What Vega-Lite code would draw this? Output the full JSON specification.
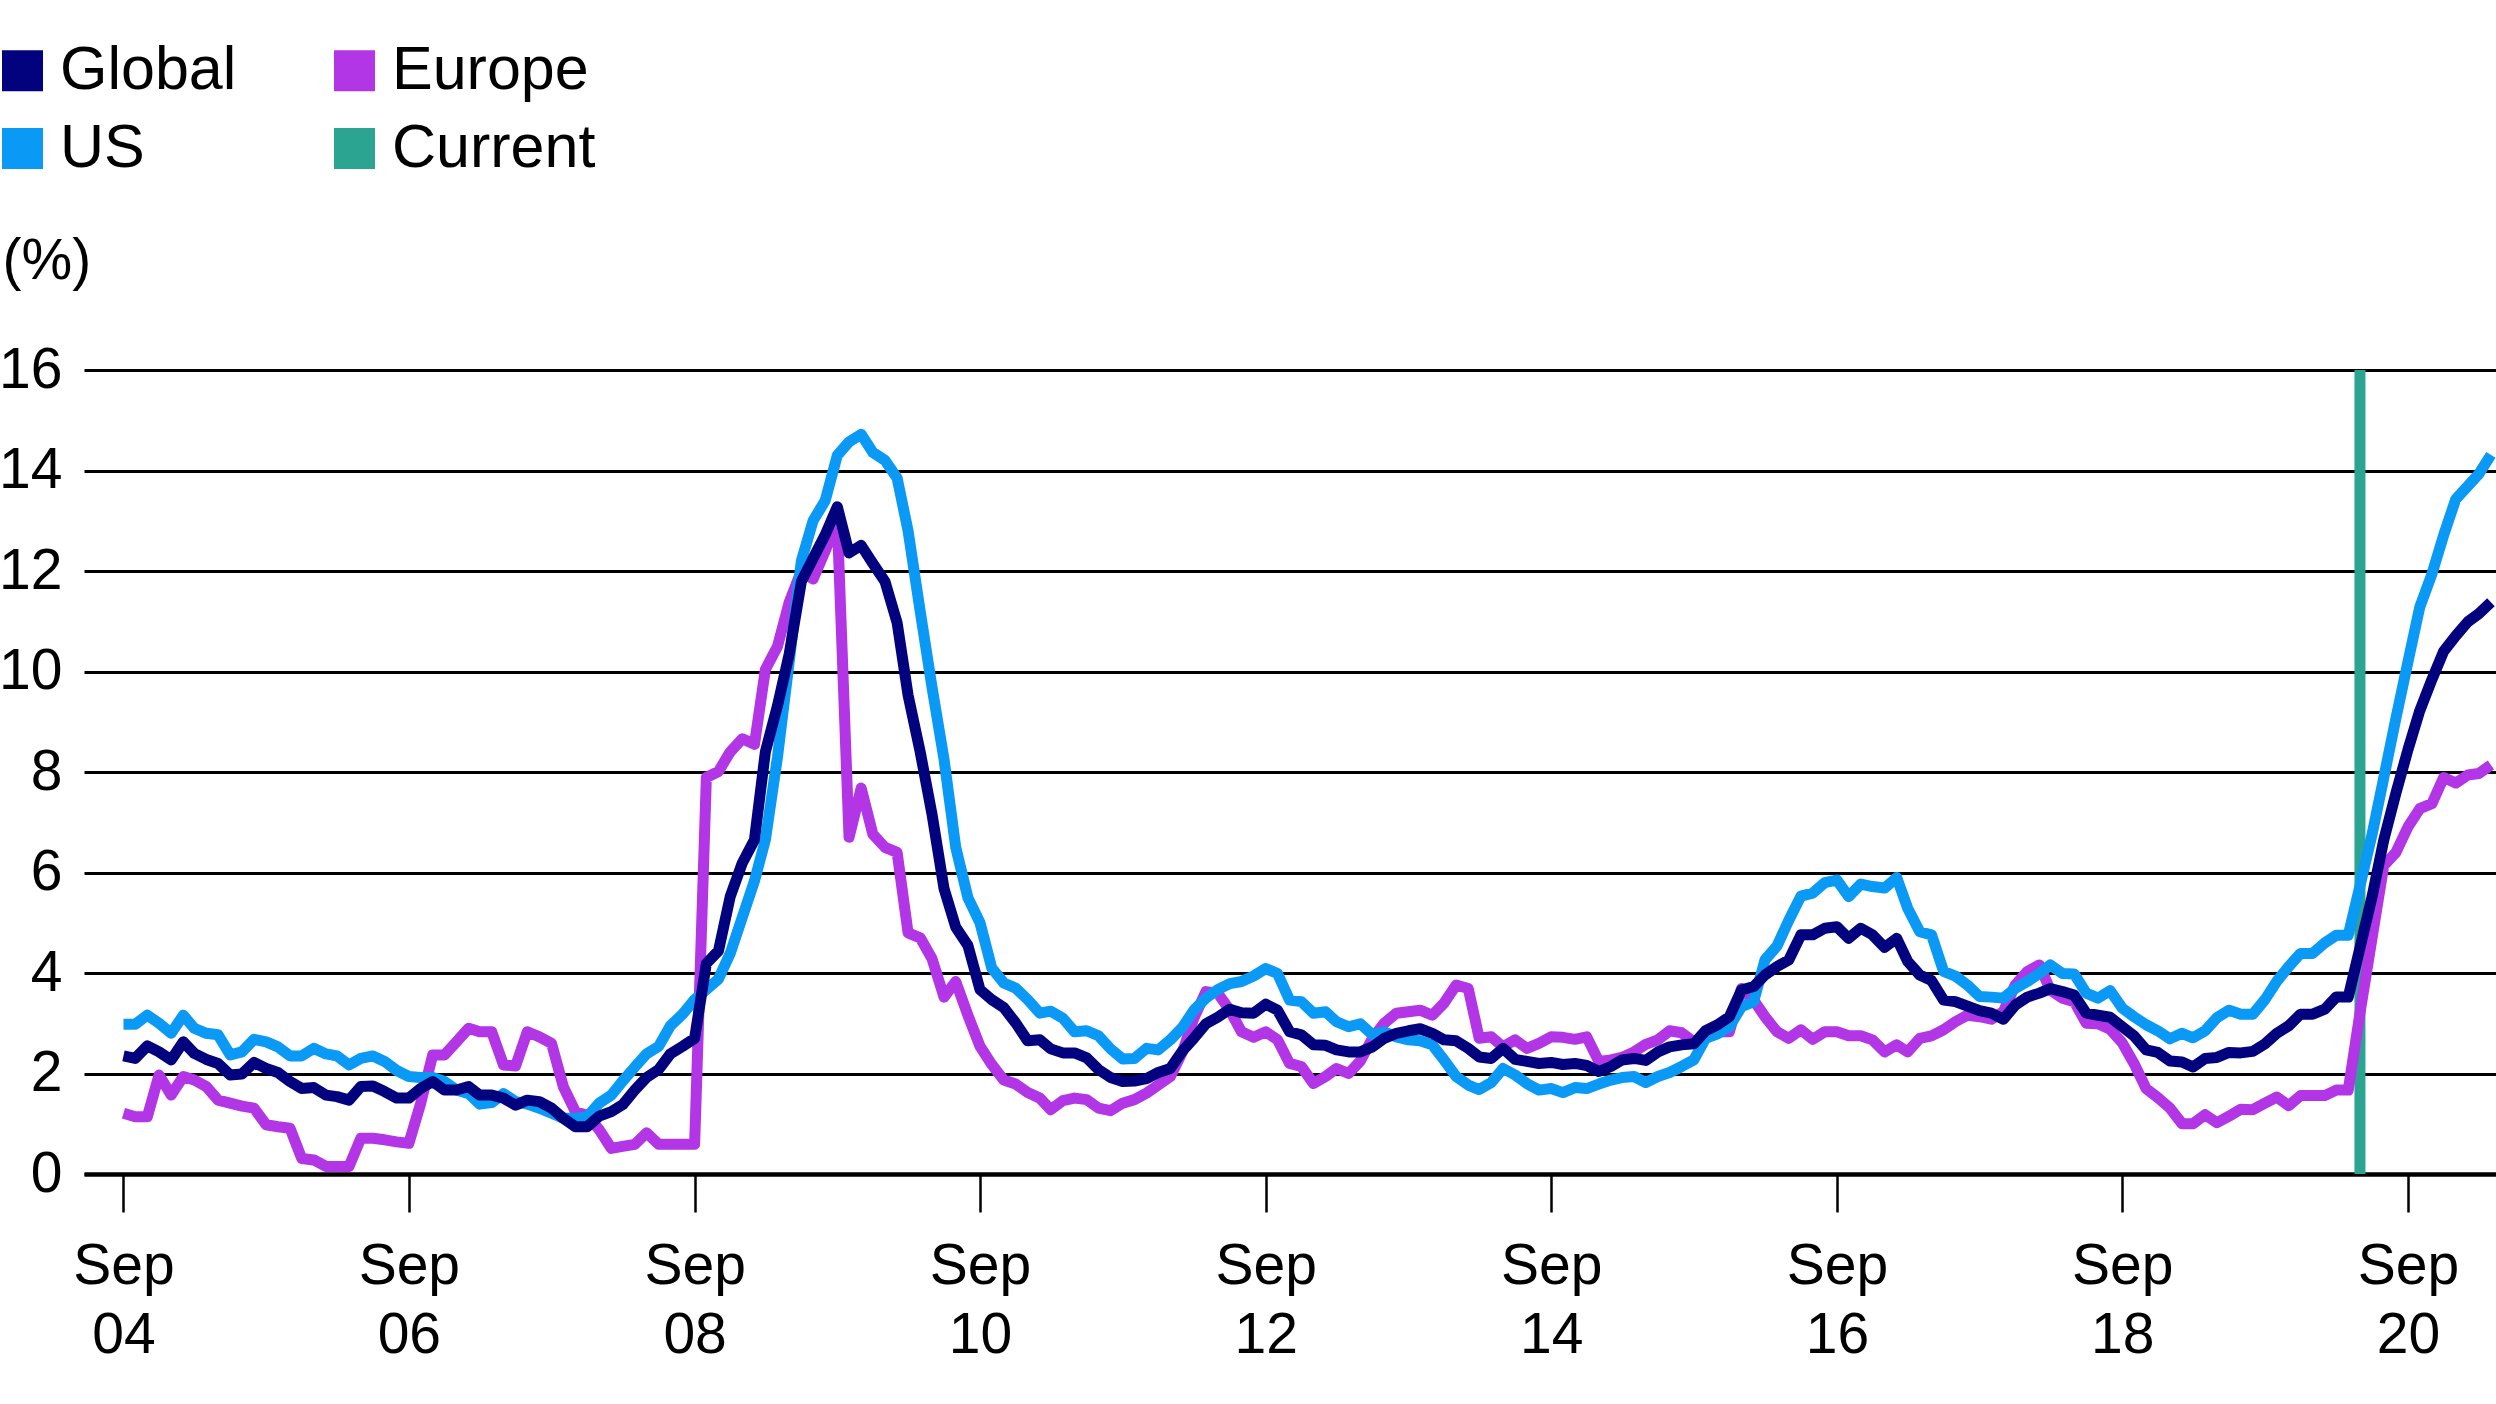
{
  "$schema": "https://vega.github.io/schema/vega-lite/v6.json",
  "width": 2412,
  "height": 804,
  "autosize": {"type": "none"},
  "padding": {"left": 84, "top": 370, "right": 0, "bottom": 230},
  "background": "white",
  "config": {
    "view": {"stroke": null},
    "font": "Liberation Sans",
    "axisX": {
      "grid": false,
      "domain": true,
      "domainColor": "black",
      "domainWidth": 4.5,
      "ticks": true,
      "tickColor": "black",
      "tickWidth": 2.5,
      "tickSize": 38,
      "labelFont": "Liberation Sans",
      "labelFontSize": 57,
      "labelColor": "black",
      "labelAngle": 0,
      "labelBaseline": "top",
      "labelLineHeight": 69,
      "labelPadding": 26,
      "labelFlush": false,
      "labelOverlap": false,
      "title": null
    },
    "axisY": {
      "grid": true,
      "gridColor": "black",
      "gridWidth": 3,
      "gridOpacity": 1,
      "domain": false,
      "ticks": false,
      "tickSize": 0,
      "tickCount": 8,
      "labelFont": "Liberation Sans",
      "labelFontSize": 57,
      "labelColor": "black",
      "labelPadding": 22,
      "labelBaseline": "middle",
      "titleFont": "Liberation Sans",
      "titleFontSize": 57,
      "titleFontWeight": "normal",
      "titleColor": "black",
      "titleAngle": 0,
      "titleAlign": "left",
      "titleBaseline": "alphabetic",
      "titleX": -82,
      "titleY": -92
    }
  },
  "data": {
    "values": [
      {"date": "2004-09-01", "Global": 2.35, "US": 2.98, "Europe": 1.21},
      {"date": "2004-10-01", "Global": 2.30, "US": 2.98, "Europe": 1.14},
      {"date": "2004-11-01", "Global": 2.55, "US": 3.16, "Europe": 1.14},
      {"date": "2004-12-01", "Global": 2.43, "US": 3.00, "Europe": 1.97},
      {"date": "2005-01-01", "Global": 2.27, "US": 2.80, "Europe": 1.57},
      {"date": "2005-02-01", "Global": 2.63, "US": 3.16, "Europe": 1.94},
      {"date": "2005-03-01", "Global": 2.40, "US": 2.90, "Europe": 1.87},
      {"date": "2005-04-01", "Global": 2.28, "US": 2.80, "Europe": 1.74},
      {"date": "2005-05-01", "Global": 2.20, "US": 2.77, "Europe": 1.47},
      {"date": "2005-06-01", "Global": 1.97, "US": 2.37, "Europe": 1.41},
      {"date": "2005-07-01", "Global": 1.99, "US": 2.43, "Europe": 1.35},
      {"date": "2005-08-01", "Global": 2.22, "US": 2.68, "Europe": 1.31},
      {"date": "2005-09-01", "Global": 2.10, "US": 2.63, "Europe": 0.98},
      {"date": "2005-10-01", "Global": 2.02, "US": 2.53, "Europe": 0.94},
      {"date": "2005-11-01", "Global": 1.84, "US": 2.35, "Europe": 0.91},
      {"date": "2005-12-01", "Global": 1.70, "US": 2.35, "Europe": 0.31},
      {"date": "2006-01-01", "Global": 1.72, "US": 2.50, "Europe": 0.28},
      {"date": "2006-02-01", "Global": 1.57, "US": 2.39, "Europe": 0.15},
      {"date": "2006-03-01", "Global": 1.54, "US": 2.35, "Europe": 0.15},
      {"date": "2006-04-01", "Global": 1.47, "US": 2.17, "Europe": 0.15},
      {"date": "2006-05-01", "Global": 1.74, "US": 2.30, "Europe": 0.71},
      {"date": "2006-06-01", "Global": 1.75, "US": 2.35, "Europe": 0.71},
      {"date": "2006-07-01", "Global": 1.64, "US": 2.24, "Europe": 0.68},
      {"date": "2006-08-01", "Global": 1.51, "US": 2.06, "Europe": 0.64},
      {"date": "2006-09-01", "Global": 1.51, "US": 1.94, "Europe": 0.61},
      {"date": "2006-10-01", "Global": 1.70, "US": 1.92, "Europe": 1.40},
      {"date": "2006-11-01", "Global": 1.84, "US": 1.92, "Europe": 2.37},
      {"date": "2006-12-01", "Global": 1.67, "US": 1.84, "Europe": 2.37},
      {"date": "2007-01-01", "Global": 1.67, "US": 1.67, "Europe": 2.63},
      {"date": "2007-02-01", "Global": 1.74, "US": 1.60, "Europe": 2.90},
      {"date": "2007-03-01", "Global": 1.57, "US": 1.39, "Europe": 2.83},
      {"date": "2007-04-01", "Global": 1.57, "US": 1.42, "Europe": 2.83},
      {"date": "2007-05-01", "Global": 1.51, "US": 1.60, "Europe": 2.17},
      {"date": "2007-06-01", "Global": 1.37, "US": 1.44, "Europe": 2.15},
      {"date": "2007-07-01", "Global": 1.47, "US": 1.39, "Europe": 2.83},
      {"date": "2007-08-01", "Global": 1.44, "US": 1.31, "Europe": 2.73},
      {"date": "2007-09-01", "Global": 1.31, "US": 1.21, "Europe": 2.60},
      {"date": "2007-10-01", "Global": 1.11, "US": 1.11, "Europe": 1.74},
      {"date": "2007-11-01", "Global": 0.94, "US": 1.11, "Europe": 1.24},
      {"date": "2007-12-01", "Global": 0.94, "US": 1.14, "Europe": 1.17},
      {"date": "2008-01-01", "Global": 1.15, "US": 1.41, "Europe": 0.88},
      {"date": "2008-02-01", "Global": 1.24, "US": 1.57, "Europe": 0.51},
      {"date": "2008-03-01", "Global": 1.38, "US": 1.85, "Europe": 0.55},
      {"date": "2008-04-01", "Global": 1.67, "US": 2.13, "Europe": 0.59},
      {"date": "2008-05-01", "Global": 1.92, "US": 2.39, "Europe": 0.82},
      {"date": "2008-06-01", "Global": 2.08, "US": 2.54, "Europe": 0.59},
      {"date": "2008-07-01", "Global": 2.39, "US": 2.95, "Europe": 0.59},
      {"date": "2008-08-01", "Global": 2.54, "US": 3.18, "Europe": 0.59},
      {"date": "2008-09-01", "Global": 2.70, "US": 3.47, "Europe": 0.59},
      {"date": "2008-10-01", "Global": 4.19, "US": 3.67, "Europe": 7.89},
      {"date": "2008-11-01", "Global": 4.44, "US": 3.88, "Europe": 8.01},
      {"date": "2008-12-01", "Global": 5.52, "US": 4.39, "Europe": 8.40},
      {"date": "2009-01-01", "Global": 6.19, "US": 5.11, "Europe": 8.66},
      {"date": "2009-02-01", "Global": 6.65, "US": 5.83, "Europe": 8.55},
      {"date": "2009-03-01", "Global": 8.40, "US": 6.65, "Europe": 10.04},
      {"date": "2009-04-01", "Global": 9.32, "US": 8.30, "Europe": 10.50},
      {"date": "2009-05-01", "Global": 10.35, "US": 10.20, "Europe": 11.38},
      {"date": "2009-06-01", "Global": 11.79, "US": 12.20, "Europe": 12.00},
      {"date": "2009-07-01", "Global": 12.25, "US": 13.00, "Europe": 11.84},
      {"date": "2009-08-01", "Global": 12.72, "US": 13.40, "Europe": 12.40},
      {"date": "2009-09-01", "Global": 13.28, "US": 14.30, "Europe": 13.00},
      {"date": "2009-10-01", "Global": 12.36, "US": 14.57, "Europe": 6.70},
      {"date": "2009-11-01", "Global": 12.51, "US": 14.72, "Europe": 7.68},
      {"date": "2009-12-01", "Global": 12.15, "US": 14.36, "Europe": 6.76},
      {"date": "2010-01-01", "Global": 11.79, "US": 14.20, "Europe": 6.50},
      {"date": "2010-02-01", "Global": 10.97, "US": 13.85, "Europe": 6.40},
      {"date": "2010-03-01", "Global": 9.53, "US": 12.80, "Europe": 4.80},
      {"date": "2010-04-01", "Global": 8.40, "US": 11.20, "Europe": 4.70},
      {"date": "2010-05-01", "Global": 7.17, "US": 9.70, "Europe": 4.29},
      {"date": "2010-06-01", "Global": 5.68, "US": 8.25, "Europe": 3.52},
      {"date": "2010-07-01", "Global": 4.91, "US": 6.50, "Europe": 3.83},
      {"date": "2010-08-01", "Global": 4.55, "US": 5.50, "Europe": 3.16},
      {"date": "2010-09-01", "Global": 3.67, "US": 5.00, "Europe": 2.54},
      {"date": "2010-10-01", "Global": 3.47, "US": 4.10, "Europe": 2.18},
      {"date": "2010-11-01", "Global": 3.31, "US": 3.80, "Europe": 1.87},
      {"date": "2010-12-01", "Global": 3.01, "US": 3.70, "Europe": 1.79},
      {"date": "2011-01-01", "Global": 2.65, "US": 3.47, "Europe": 1.62},
      {"date": "2011-02-01", "Global": 2.67, "US": 3.20, "Europe": 1.51},
      {"date": "2011-03-01", "Global": 2.49, "US": 3.24, "Europe": 1.28},
      {"date": "2011-04-01", "Global": 2.41, "US": 3.10, "Europe": 1.46},
      {"date": "2011-05-01", "Global": 2.41, "US": 2.83, "Europe": 1.51},
      {"date": "2011-06-01", "Global": 2.31, "US": 2.85, "Europe": 1.48},
      {"date": "2011-07-01", "Global": 2.08, "US": 2.75, "Europe": 1.31},
      {"date": "2011-08-01", "Global": 1.92, "US": 2.49, "Europe": 1.26},
      {"date": "2011-09-01", "Global": 1.84, "US": 2.29, "Europe": 1.41},
      {"date": "2011-10-01", "Global": 1.85, "US": 2.30, "Europe": 1.48},
      {"date": "2011-11-01", "Global": 1.90, "US": 2.50, "Europe": 1.61},
      {"date": "2011-12-01", "Global": 2.02, "US": 2.47, "Europe": 1.77},
      {"date": "2012-01-01", "Global": 2.10, "US": 2.67, "Europe": 1.94},
      {"date": "2012-02-01", "Global": 2.45, "US": 2.92, "Europe": 2.43},
      {"date": "2012-03-01", "Global": 2.70, "US": 3.26, "Europe": 3.10},
      {"date": "2012-04-01", "Global": 2.99, "US": 3.50, "Europe": 3.63},
      {"date": "2012-05-01", "Global": 3.12, "US": 3.67, "Europe": 3.60},
      {"date": "2012-06-01", "Global": 3.28, "US": 3.79, "Europe": 3.26},
      {"date": "2012-07-01", "Global": 3.21, "US": 3.83, "Europe": 2.83},
      {"date": "2012-08-01", "Global": 3.20, "US": 3.94, "Europe": 2.72},
      {"date": "2012-09-01", "Global": 3.38, "US": 4.09, "Europe": 2.83},
      {"date": "2012-10-01", "Global": 3.26, "US": 3.99, "Europe": 2.67},
      {"date": "2012-11-01", "Global": 2.83, "US": 3.46, "Europe": 2.20},
      {"date": "2012-12-01", "Global": 2.77, "US": 3.43, "Europe": 2.14},
      {"date": "2013-01-01", "Global": 2.57, "US": 3.20, "Europe": 1.80},
      {"date": "2013-02-01", "Global": 2.56, "US": 3.23, "Europe": 1.94},
      {"date": "2013-03-01", "Global": 2.47, "US": 3.03, "Europe": 2.10},
      {"date": "2013-04-01", "Global": 2.43, "US": 2.93, "Europe": 2.00},
      {"date": "2013-05-01", "Global": 2.43, "US": 2.99, "Europe": 2.25},
      {"date": "2013-06-01", "Global": 2.53, "US": 2.77, "Europe": 2.70},
      {"date": "2013-07-01", "Global": 2.70, "US": 2.83, "Europe": 3.00},
      {"date": "2013-08-01", "Global": 2.80, "US": 2.73, "Europe": 3.20},
      {"date": "2013-09-01", "Global": 2.85, "US": 2.67, "Europe": 3.23},
      {"date": "2013-10-01", "Global": 2.89, "US": 2.65, "Europe": 3.26},
      {"date": "2013-11-01", "Global": 2.80, "US": 2.57, "Europe": 3.16},
      {"date": "2013-12-01", "Global": 2.67, "US": 2.27, "Europe": 3.40},
      {"date": "2014-01-01", "Global": 2.65, "US": 1.94, "Europe": 3.76},
      {"date": "2014-02-01", "Global": 2.50, "US": 1.77, "Europe": 3.69},
      {"date": "2014-03-01", "Global": 2.33, "US": 1.68, "Europe": 2.70},
      {"date": "2014-04-01", "Global": 2.30, "US": 1.82, "Europe": 2.73},
      {"date": "2014-05-01", "Global": 2.50, "US": 2.10, "Europe": 2.53},
      {"date": "2014-06-01", "Global": 2.28, "US": 1.97, "Europe": 2.67},
      {"date": "2014-07-01", "Global": 2.24, "US": 1.80, "Europe": 2.50},
      {"date": "2014-08-01", "Global": 2.20, "US": 1.67, "Europe": 2.60},
      {"date": "2014-09-01", "Global": 2.22, "US": 1.70, "Europe": 2.73},
      {"date": "2014-10-01", "Global": 2.18, "US": 1.62, "Europe": 2.72},
      {"date": "2014-11-01", "Global": 2.20, "US": 1.72, "Europe": 2.68},
      {"date": "2014-12-01", "Global": 2.16, "US": 1.70, "Europe": 2.73},
      {"date": "2015-01-01", "Global": 2.04, "US": 1.79, "Europe": 2.24},
      {"date": "2015-02-01", "Global": 2.14, "US": 1.87, "Europe": 2.27},
      {"date": "2015-03-01", "Global": 2.27, "US": 1.92, "Europe": 2.32},
      {"date": "2015-04-01", "Global": 2.30, "US": 1.94, "Europe": 2.43},
      {"date": "2015-05-01", "Global": 2.26, "US": 1.82, "Europe": 2.58},
      {"date": "2015-06-01", "Global": 2.43, "US": 1.94, "Europe": 2.67},
      {"date": "2015-07-01", "Global": 2.53, "US": 2.02, "Europe": 2.85},
      {"date": "2015-08-01", "Global": 2.57, "US": 2.14, "Europe": 2.81},
      {"date": "2015-09-01", "Global": 2.59, "US": 2.27, "Europe": 2.63},
      {"date": "2015-10-01", "Global": 2.85, "US": 2.70, "Europe": 2.73},
      {"date": "2015-11-01", "Global": 2.97, "US": 2.79, "Europe": 2.83},
      {"date": "2015-12-01", "Global": 3.13, "US": 2.93, "Europe": 2.83},
      {"date": "2016-01-01", "Global": 3.66, "US": 3.33, "Europe": 3.69},
      {"date": "2016-02-01", "Global": 3.73, "US": 3.43, "Europe": 3.46},
      {"date": "2016-03-01", "Global": 3.96, "US": 4.26, "Europe": 3.13},
      {"date": "2016-04-01", "Global": 4.13, "US": 4.54, "Europe": 2.83},
      {"date": "2016-05-01", "Global": 4.26, "US": 5.05, "Europe": 2.70},
      {"date": "2016-06-01", "Global": 4.76, "US": 5.53, "Europe": 2.87},
      {"date": "2016-07-01", "Global": 4.76, "US": 5.59, "Europe": 2.68},
      {"date": "2016-08-01", "Global": 4.89, "US": 5.80, "Europe": 2.83},
      {"date": "2016-09-01", "Global": 4.92, "US": 5.85, "Europe": 2.83},
      {"date": "2016-10-01", "Global": 4.69, "US": 5.52, "Europe": 2.75},
      {"date": "2016-11-01", "Global": 4.89, "US": 5.77, "Europe": 2.75},
      {"date": "2016-12-01", "Global": 4.76, "US": 5.72, "Europe": 2.67},
      {"date": "2017-01-01", "Global": 4.51, "US": 5.69, "Europe": 2.43},
      {"date": "2017-02-01", "Global": 4.69, "US": 5.90, "Europe": 2.57},
      {"date": "2017-03-01", "Global": 4.23, "US": 5.29, "Europe": 2.43},
      {"date": "2017-04-01", "Global": 3.96, "US": 4.82, "Europe": 2.70},
      {"date": "2017-05-01", "Global": 3.85, "US": 4.76, "Europe": 2.75},
      {"date": "2017-06-01", "Global": 3.46, "US": 4.03, "Europe": 2.87},
      {"date": "2017-07-01", "Global": 3.43, "US": 3.94, "Europe": 3.03},
      {"date": "2017-08-01", "Global": 3.34, "US": 3.76, "Europe": 3.16},
      {"date": "2017-09-01", "Global": 3.25, "US": 3.53, "Europe": 3.13},
      {"date": "2017-10-01", "Global": 3.20, "US": 3.52, "Europe": 3.08},
      {"date": "2017-11-01", "Global": 3.08, "US": 3.50, "Europe": 3.23},
      {"date": "2017-12-01", "Global": 3.36, "US": 3.69, "Europe": 3.76},
      {"date": "2018-01-01", "Global": 3.52, "US": 3.83, "Europe": 4.03},
      {"date": "2018-02-01", "Global": 3.60, "US": 3.99, "Europe": 4.16},
      {"date": "2018-03-01", "Global": 3.69, "US": 4.16, "Europe": 3.66},
      {"date": "2018-04-01", "Global": 3.63, "US": 3.99, "Europe": 3.50},
      {"date": "2018-05-01", "Global": 3.56, "US": 3.98, "Europe": 3.43},
      {"date": "2018-06-01", "Global": 3.20, "US": 3.60, "Europe": 3.00},
      {"date": "2018-07-01", "Global": 3.16, "US": 3.50, "Europe": 2.99},
      {"date": "2018-08-01", "Global": 3.12, "US": 3.65, "Europe": 2.88},
      {"date": "2018-09-01", "Global": 2.93, "US": 3.30, "Europe": 2.61},
      {"date": "2018-10-01", "Global": 2.75, "US": 3.13, "Europe": 2.20},
      {"date": "2018-11-01", "Global": 2.47, "US": 2.97, "Europe": 1.70},
      {"date": "2018-12-01", "Global": 2.42, "US": 2.85, "Europe": 1.52},
      {"date": "2019-01-01", "Global": 2.25, "US": 2.69, "Europe": 1.31},
      {"date": "2019-02-01", "Global": 2.23, "US": 2.80, "Europe": 1.00},
      {"date": "2019-03-01", "Global": 2.13, "US": 2.71, "Europe": 1.00},
      {"date": "2019-04-01", "Global": 2.30, "US": 2.85, "Europe": 1.18},
      {"date": "2019-05-01", "Global": 2.32, "US": 3.11, "Europe": 1.02},
      {"date": "2019-06-01", "Global": 2.42, "US": 3.26, "Europe": 1.15},
      {"date": "2019-07-01", "Global": 2.41, "US": 3.18, "Europe": 1.29},
      {"date": "2019-08-01", "Global": 2.44, "US": 3.18, "Europe": 1.28},
      {"date": "2019-09-01", "Global": 2.59, "US": 3.47, "Europe": 1.41},
      {"date": "2019-10-01", "Global": 2.80, "US": 3.83, "Europe": 1.53},
      {"date": "2019-11-01", "Global": 2.95, "US": 4.13, "Europe": 1.36},
      {"date": "2019-12-01", "Global": 3.18, "US": 4.39, "Europe": 1.56},
      {"date": "2020-01-01", "Global": 3.18, "US": 4.39, "Europe": 1.56},
      {"date": "2020-02-01", "Global": 3.28, "US": 4.60, "Europe": 1.56},
      {"date": "2020-03-01", "Global": 3.52, "US": 4.75, "Europe": 1.67},
      {"date": "2020-04-01", "Global": 3.52, "US": 4.75, "Europe": 1.67},
      {"date": "2020-05-01", "Global": 4.50, "US": 5.73, "Europe": 3.20},
      {"date": "2020-06-01", "Global": 5.52, "US": 6.76, "Europe": 4.70},
      {"date": "2020-07-01", "Global": 6.65, "US": 7.89, "Europe": 6.14},
      {"date": "2020-08-01", "Global": 7.58, "US": 9.07, "Europe": 6.40},
      {"date": "2020-09-01", "Global": 8.45, "US": 10.20, "Europe": 6.91},
      {"date": "2020-10-01", "Global": 9.22, "US": 11.28, "Europe": 7.27},
      {"date": "2020-11-01", "Global": 9.84, "US": 11.94, "Europe": 7.37},
      {"date": "2020-12-01", "Global": 10.40, "US": 12.71, "Europe": 7.89},
      {"date": "2021-01-01", "Global": 10.71, "US": 13.43, "Europe": 7.78},
      {"date": "2021-02-01", "Global": 10.99, "US": 13.69, "Europe": 7.94},
      {"date": "2021-03-01", "Global": 11.15, "US": 13.93, "Europe": 7.97},
      {"date": "2021-04-01", "Global": 11.38, "US": 14.31, "Europe": 8.14}
    ]
  },
  "encoding": {
    "x": {
      "field": "date",
      "type": "temporal",
      "scale": {
        "type": "utc",
        "domain": [
          {"year": 2004, "month": "may", "date": 23, "utc": true},
          {"year": 2021, "month": "apr", "date": 14, "utc": true}
        ]
      },
      "axis": {
        "values": [
          {"year": 2004, "month": "sep", "date": 1, "utc": true},
          {"year": 2006, "month": "sep", "date": 1, "utc": true},
          {"year": 2008, "month": "sep", "date": 1, "utc": true},
          {"year": 2010, "month": "sep", "date": 1, "utc": true},
          {"year": 2012, "month": "sep", "date": 1, "utc": true},
          {"year": 2014, "month": "sep", "date": 1, "utc": true},
          {"year": 2016, "month": "sep", "date": 1, "utc": true},
          {"year": 2018, "month": "sep", "date": 1, "utc": true},
          {"year": 2020, "month": "sep", "date": 1, "utc": true}
        ],
        "labelExpr": "['Sep', utcFormat(datum.value, '%y')]"
      }
    }
  },
  "layer": [
    {
      "data": {"values": [{"event": "Current", "date": "2020-05-01"}]},
      "mark": {"type": "rule", "strokeWidth": 11},
      "encoding": {
        "color": {
          "field": "event",
          "type": "nominal",
          "scale": {
            "domain": ["Global", "US", "Europe", "Current"],
            "range": ["#02027E", "#0A99F5", "#B236E6", "#2BA592"]
          },
          "legend": {
            "title": null,
            "orient": "none",
            "legendX": -92,
            "legendY": -330,
            "columns": 2,
            "padding": 0,
            "symbolType": "square",
            "symbolSize": 1681,
            "symbolStrokeWidth": 0,
            "labelFont": "Liberation Sans",
            "labelFontSize": 61,
            "labelColor": "black",
            "labelOffset": 7,
            "labelLimit": 500,
            "rowPadding": 16,
            "columnPadding": 87,
            "encode": {
              "symbols": {
                "update": {
                  "fill": {"scale": "color", "field": "value"},
                  "stroke": {"value": "transparent"},
                  "strokeWidth": {"value": 0},
                  "opacity": {"value": 1}
                }
              }
            }
          }
        }
      }
    },
    {
      "mark": {"type": "line", "strokeWidth": 11, "strokeJoin": "round"},
      "encoding": {
        "y": {"field": "Europe", "type": "quantitative", "title": "(%)", "scale": {"domain": [0, 16], "nice": false}},
        "color": {"datum": "Europe", "type": "nominal"}
      }
    },
    {
      "mark": {"type": "line", "strokeWidth": 11, "strokeJoin": "round"},
      "encoding": {
        "y": {"field": "US", "type": "quantitative", "title": "(%)", "scale": {"domain": [0, 16], "nice": false}},
        "color": {"datum": "US", "type": "nominal"}
      }
    },
    {
      "mark": {"type": "line", "strokeWidth": 11, "strokeJoin": "round"},
      "encoding": {
        "y": {"field": "Global", "type": "quantitative", "title": "(%)", "scale": {"domain": [0, 16], "nice": false}},
        "color": {"datum": "Global", "type": "nominal"}
      }
    }
  ]
}
